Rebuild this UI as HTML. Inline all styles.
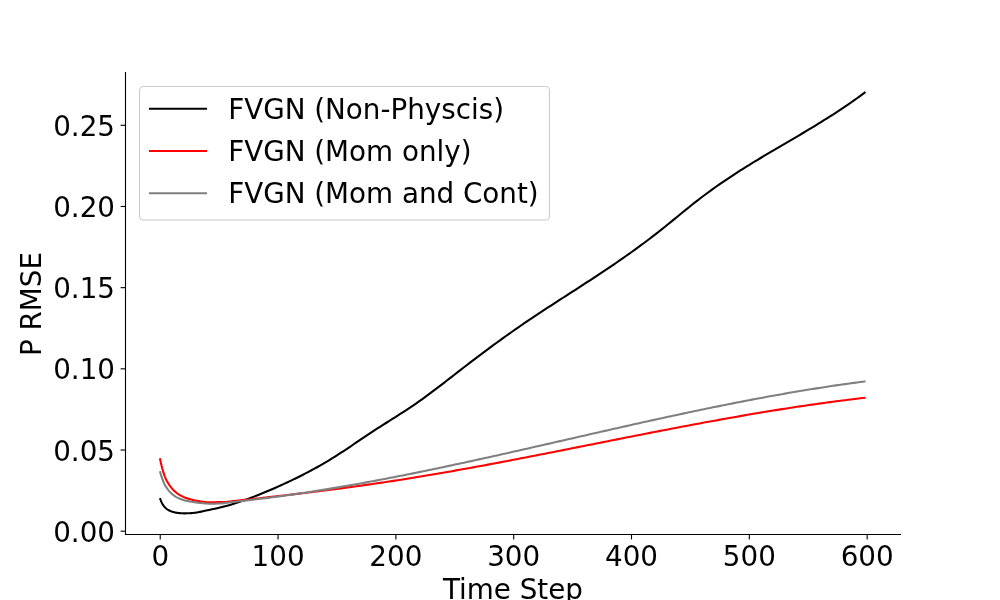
<!DOCTYPE html>
<html><head><meta charset="utf-8"><title>P RMSE</title>
<style>html,body{margin:0;padding:0;background:#fff}svg{display:block}text{font-family:"DejaVu Sans","Liberation Sans",sans-serif;font-size:27.78px;fill:#000}</style></head><body>
<svg width="1000" height="600" viewBox="0 0 1000 600">
<rect width="1000" height="600" fill="#fff"/>
<g fill="none" stroke-width="2.08" stroke-linejoin="round" stroke-linecap="butt">
<path d="M159.90 498.10 L160.40 499.46 L160.90 500.72 L161.40 501.88 L161.90 502.91 L162.40 503.82 L162.90 504.66 L163.40 505.42 L163.90 506.10 L164.40 506.72 L164.90 507.28 L165.40 507.79 L165.90 508.25 L166.40 508.67 L166.90 509.04 L167.40 509.39 L167.90 509.71 L168.40 510.00 L168.90 510.28 L169.40 510.53 L169.90 510.77 L170.40 510.98 L170.90 511.19 L171.40 511.38 L171.90 511.56 L172.40 511.73 L172.90 511.88 L173.40 512.02 L173.90 512.15 L174.40 512.27 L174.90 512.40 L175.40 512.51 L175.90 512.62 L176.40 512.72 L176.90 512.81 L177.40 512.89 L177.90 512.96 L178.40 513.01 L178.90 513.06 L179.40 513.10 L179.90 513.14 L180.40 513.18 L180.90 513.22 L181.40 513.25 L181.90 513.28 L182.40 513.31 L182.90 513.33 L183.40 513.34 L183.90 513.35 L184.40 513.35 L184.90 513.35 L185.40 513.34 L185.90 513.33 L186.40 513.32 L186.90 513.31 L187.40 513.30 L187.90 513.28 L188.40 513.26 L188.90 513.24 L189.40 513.22 L189.90 513.20 L190.40 513.18 L190.90 513.15 L191.40 513.12 L191.90 513.08 L192.40 513.04 L192.90 512.99 L193.40 512.94 L193.90 512.88 L194.40 512.82 L194.90 512.76 L195.40 512.70 L195.90 512.64 L196.40 512.57 L196.90 512.49 L197.40 512.40 L197.90 512.31 L198.40 512.21 L198.90 512.10 L199.40 512.00 L199.90 511.89 L200.00 511.87 L203.00 511.23 L206.00 510.60 L209.00 509.96 L212.00 509.31 L215.00 508.65 L218.00 507.98 L221.00 507.28 L224.00 506.54 L227.00 505.74 L230.00 504.90 L233.00 504.00 L236.00 503.04 L239.00 502.03 L242.00 501.00 L245.00 499.95 L248.00 498.87 L251.00 497.76 L254.00 496.62 L257.00 495.45 L260.00 494.26 L263.00 493.04 L266.00 491.79 L269.00 490.53 L272.00 489.24 L275.00 487.93 L278.00 486.60 L281.00 485.25 L284.00 483.89 L287.00 482.50 L290.00 481.09 L293.00 479.66 L296.00 478.20 L299.00 476.72 L302.00 475.21 L305.00 473.67 L308.00 472.11 L311.00 470.51 L314.00 468.89 L317.00 467.24 L320.00 465.55 L323.00 463.83 L326.00 462.07 L329.00 460.28 L332.00 458.45 L335.00 456.58 L338.00 454.68 L341.00 452.74 L344.00 450.77 L347.00 448.78 L350.00 446.77 L353.00 444.75 L356.00 442.72 L359.00 440.69 L362.00 438.66 L365.00 436.64 L368.00 434.63 L371.00 432.64 L374.00 430.68 L377.00 428.73 L380.00 426.81 L383.00 424.90 L386.00 423.00 L389.00 421.11 L392.00 419.22 L395.00 417.32 L398.00 415.41 L401.00 413.49 L404.00 411.55 L407.00 409.59 L410.00 407.60 L413.00 405.58 L416.00 403.52 L419.00 401.42 L422.00 399.29 L425.00 397.12 L428.00 394.92 L431.00 392.70 L434.00 390.45 L437.00 388.18 L440.00 385.89 L443.00 383.58 L446.00 381.27 L449.00 378.94 L452.00 376.61 L455.00 374.28 L458.00 371.94 L461.00 369.61 L464.00 367.29 L467.00 364.97 L470.00 362.67 L473.00 360.38 L476.00 358.09 L479.00 355.82 L482.00 353.57 L485.00 351.32 L488.00 349.09 L491.00 346.87 L494.00 344.66 L497.00 342.47 L500.00 340.30 L503.00 338.14 L506.00 335.99 L509.00 333.86 L512.00 331.75 L515.00 329.65 L518.00 327.57 L521.00 325.50 L524.00 323.45 L527.00 321.42 L530.00 319.40 L533.00 317.39 L536.00 315.39 L539.00 313.40 L542.00 311.42 L545.00 309.45 L548.00 307.49 L551.00 305.53 L554.00 303.58 L557.00 301.64 L560.00 299.69 L563.00 297.75 L566.00 295.82 L569.00 293.88 L572.00 291.94 L575.00 290.01 L578.00 288.07 L581.00 286.12 L584.00 284.18 L587.00 282.23 L590.00 280.27 L593.00 278.31 L596.00 276.34 L599.00 274.36 L602.00 272.37 L605.00 270.37 L608.00 268.36 L611.00 266.33 L614.00 264.30 L617.00 262.25 L620.00 260.18 L623.00 258.10 L626.00 256.00 L629.00 253.88 L632.00 251.74 L635.00 249.59 L638.00 247.41 L641.00 245.21 L644.00 242.99 L647.00 240.75 L650.00 238.48 L653.00 236.18 L656.00 233.86 L659.00 231.51 L662.00 229.13 L665.00 226.73 L668.00 224.30 L671.00 221.87 L674.00 219.42 L677.00 216.96 L680.00 214.51 L683.00 212.06 L686.00 209.62 L689.00 207.20 L692.00 204.80 L695.00 202.42 L698.00 200.07 L701.00 197.76 L704.00 195.49 L707.00 193.25 L710.00 191.05 L713.00 188.88 L716.00 186.75 L719.00 184.65 L722.00 182.57 L725.00 180.53 L728.00 178.52 L731.00 176.53 L734.00 174.56 L737.00 172.62 L740.00 170.70 L743.00 168.80 L746.00 166.92 L749.00 165.06 L752.00 163.21 L755.00 161.38 L758.00 159.56 L761.00 157.76 L764.00 155.96 L767.00 154.18 L770.00 152.40 L773.00 150.63 L776.00 148.87 L779.00 147.11 L782.00 145.35 L785.00 143.59 L788.00 141.83 L791.00 140.07 L794.00 138.31 L797.00 136.55 L800.00 134.78 L803.00 133.00 L806.00 131.21 L809.00 129.42 L812.00 127.61 L815.00 125.79 L818.00 123.96 L821.00 122.11 L824.00 120.24 L827.00 118.36 L830.00 116.46 L833.00 114.54 L836.00 112.59 L839.00 110.63 L842.00 108.64 L845.00 106.62 L848.00 104.58 L851.00 102.50 L854.00 100.40 L857.00 98.27 L860.00 96.10 L863.00 93.90 L865.50 92.04" stroke="#000"/>
<path d="M159.90 458.20 L160.40 460.63 L160.90 462.93 L161.40 465.10 L161.90 467.12 L162.40 468.99 L162.90 470.76 L163.40 472.43 L163.90 473.97 L164.40 475.37 L164.90 476.66 L165.40 477.86 L165.90 478.98 L166.40 480.01 L166.90 480.98 L167.40 481.89 L167.90 482.75 L168.40 483.57 L168.90 484.34 L169.40 485.09 L169.90 485.79 L170.40 486.47 L170.90 487.11 L171.40 487.73 L171.90 488.33 L172.40 488.89 L172.90 489.44 L173.40 489.95 L173.90 490.44 L174.40 490.92 L174.90 491.39 L175.40 491.84 L175.90 492.27 L176.40 492.69 L176.90 493.09 L177.40 493.47 L177.90 493.83 L178.40 494.17 L178.90 494.49 L179.40 494.80 L179.90 495.10 L180.40 495.39 L180.90 495.67 L181.40 495.94 L181.90 496.19 L182.40 496.44 L182.90 496.68 L183.40 496.91 L183.90 497.12 L184.40 497.33 L184.90 497.53 L185.40 497.72 L185.90 497.91 L186.40 498.08 L186.90 498.25 L187.40 498.42 L187.90 498.58 L188.40 498.73 L188.90 498.88 L189.40 499.03 L189.90 499.17 L190.40 499.31 L190.90 499.45 L191.40 499.58 L191.90 499.72 L192.40 499.84 L192.90 499.97 L193.40 500.09 L193.90 500.20 L194.40 500.32 L194.90 500.42 L195.40 500.52 L195.90 500.62 L196.40 500.71 L196.90 500.80 L197.40 500.89 L197.90 500.97 L198.40 501.06 L198.90 501.14 L199.40 501.21 L199.90 501.28 L200.00 501.30 L203.00 501.66 L206.00 501.96 L209.00 502.17 L212.00 502.25 L215.00 502.22 L218.00 502.16 L221.00 502.06 L224.00 501.92 L227.00 501.72 L230.00 501.45 L233.00 501.13 L236.00 500.80 L239.00 500.46 L242.00 500.14 L245.00 499.83 L248.00 499.51 L251.00 499.18 L254.00 498.84 L257.00 498.51 L260.00 498.17 L263.00 497.83 L266.00 497.49 L269.00 497.15 L272.00 496.81 L275.00 496.46 L278.00 496.12 L281.00 495.77 L284.00 495.42 L287.00 495.07 L290.00 494.72 L293.00 494.36 L296.00 494.00 L299.00 493.64 L302.00 493.28 L305.00 492.92 L308.00 492.55 L311.00 492.18 L314.00 491.81 L317.00 491.44 L320.00 491.06 L323.00 490.68 L326.00 490.30 L329.00 489.92 L332.00 489.53 L335.00 489.14 L338.00 488.75 L341.00 488.35 L344.00 487.95 L347.00 487.55 L350.00 487.15 L353.00 486.74 L356.00 486.33 L359.00 485.91 L362.00 485.49 L365.00 485.07 L368.00 484.64 L371.00 484.21 L374.00 483.78 L377.00 483.34 L380.00 482.90 L383.00 482.46 L386.00 482.01 L389.00 481.56 L392.00 481.10 L395.00 480.64 L398.00 480.17 L401.00 479.70 L404.00 479.23 L407.00 478.75 L410.00 478.27 L413.00 477.78 L416.00 477.30 L419.00 476.80 L422.00 476.31 L425.00 475.81 L428.00 475.31 L431.00 474.80 L434.00 474.29 L437.00 473.78 L440.00 473.26 L443.00 472.74 L446.00 472.22 L449.00 471.70 L452.00 471.17 L455.00 470.64 L458.00 470.10 L461.00 469.57 L464.00 469.03 L467.00 468.48 L470.00 467.94 L473.00 467.39 L476.00 466.84 L479.00 466.29 L482.00 465.74 L485.00 465.18 L488.00 464.62 L491.00 464.06 L494.00 463.50 L497.00 462.93 L500.00 462.37 L503.00 461.80 L506.00 461.23 L509.00 460.65 L512.00 460.08 L515.00 459.50 L518.00 458.93 L521.00 458.35 L524.00 457.77 L527.00 457.19 L530.00 456.60 L533.00 456.02 L536.00 455.43 L539.00 454.85 L542.00 454.26 L545.00 453.67 L548.00 453.08 L551.00 452.49 L554.00 451.90 L557.00 451.30 L560.00 450.71 L563.00 450.12 L566.00 449.52 L569.00 448.93 L572.00 448.33 L575.00 447.74 L578.00 447.14 L581.00 446.54 L584.00 445.95 L587.00 445.35 L590.00 444.75 L593.00 444.16 L596.00 443.56 L599.00 442.96 L602.00 442.37 L605.00 441.77 L608.00 441.17 L611.00 440.58 L614.00 439.98 L617.00 439.39 L620.00 438.79 L623.00 438.20 L626.00 437.60 L629.00 437.01 L632.00 436.42 L635.00 435.83 L638.00 435.24 L641.00 434.65 L644.00 434.06 L647.00 433.47 L650.00 432.89 L653.00 432.30 L656.00 431.72 L659.00 431.13 L662.00 430.55 L665.00 429.97 L668.00 429.40 L671.00 428.82 L674.00 428.24 L677.00 427.67 L680.00 427.10 L683.00 426.53 L686.00 425.96 L689.00 425.40 L692.00 424.83 L695.00 424.27 L698.00 423.71 L701.00 423.15 L704.00 422.60 L707.00 422.04 L710.00 421.49 L713.00 420.95 L716.00 420.40 L719.00 419.86 L722.00 419.32 L725.00 418.78 L728.00 418.24 L731.00 417.71 L734.00 417.18 L737.00 416.65 L740.00 416.13 L743.00 415.61 L746.00 415.09 L749.00 414.58 L752.00 414.07 L755.00 413.56 L758.00 413.06 L761.00 412.55 L764.00 412.06 L767.00 411.56 L770.00 411.07 L773.00 410.59 L776.00 410.10 L779.00 409.62 L782.00 409.15 L785.00 408.68 L788.00 408.21 L791.00 407.75 L794.00 407.29 L797.00 406.83 L800.00 406.38 L803.00 405.93 L806.00 405.49 L809.00 405.05 L812.00 404.62 L815.00 404.19 L818.00 403.77 L821.00 403.35 L824.00 402.93 L827.00 402.52 L830.00 402.12 L833.00 401.72 L836.00 401.32 L839.00 400.93 L842.00 400.55 L845.00 400.17 L848.00 399.79 L851.00 399.42 L854.00 399.06 L857.00 398.70 L860.00 398.34 L863.00 398.00 L865.50 397.71" stroke="#f00"/>
<path d="M159.90 471.20 L160.40 472.95 L160.90 474.63 L161.40 476.22 L161.90 477.71 L162.40 479.12 L162.90 480.48 L163.40 481.76 L163.90 482.94 L164.40 484.00 L164.90 484.97 L165.40 485.86 L165.90 486.69 L166.40 487.46 L166.90 488.19 L167.40 488.88 L167.90 489.54 L168.40 490.17 L168.90 490.77 L169.40 491.34 L169.90 491.89 L170.40 492.40 L170.90 492.90 L171.40 493.38 L171.90 493.84 L172.40 494.27 L172.90 494.69 L173.40 495.08 L173.90 495.44 L174.40 495.80 L174.90 496.14 L175.40 496.48 L175.90 496.80 L176.40 497.10 L176.90 497.39 L177.40 497.66 L177.90 497.91 L178.40 498.15 L178.90 498.37 L179.40 498.58 L179.90 498.78 L180.40 498.97 L180.90 499.16 L181.40 499.33 L181.90 499.50 L182.40 499.67 L182.90 499.82 L183.40 499.97 L183.90 500.12 L184.40 500.25 L184.90 500.39 L185.40 500.52 L185.90 500.64 L186.40 500.76 L186.90 500.88 L187.40 500.99 L187.90 501.10 L188.40 501.20 L188.90 501.30 L189.40 501.39 L189.90 501.48 L190.40 501.57 L190.90 501.66 L191.40 501.74 L191.90 501.83 L192.40 501.91 L192.90 501.99 L193.40 502.07 L193.90 502.15 L194.40 502.23 L194.90 502.31 L195.40 502.38 L195.90 502.45 L196.40 502.52 L196.90 502.59 L197.40 502.66 L197.90 502.72 L198.40 502.78 L198.90 502.84 L199.40 502.89 L199.90 502.94 L200.00 502.95 L203.00 503.31 L206.00 503.56 L209.00 503.71 L212.00 503.75 L215.00 503.67 L218.00 503.54 L221.00 503.37 L224.00 503.09 L227.00 502.75 L230.00 502.39 L233.00 502.03 L236.00 501.66 L239.00 501.28 L242.00 500.93 L245.00 500.60 L248.00 500.26 L251.00 499.92 L254.00 499.56 L257.00 499.21 L260.00 498.84 L263.00 498.47 L266.00 498.10 L269.00 497.71 L272.00 497.32 L275.00 496.93 L278.00 496.53 L281.00 496.12 L284.00 495.71 L287.00 495.29 L290.00 494.87 L293.00 494.44 L296.00 494.00 L299.00 493.56 L302.00 493.12 L305.00 492.67 L308.00 492.21 L311.00 491.75 L314.00 491.28 L317.00 490.81 L320.00 490.33 L323.00 489.85 L326.00 489.36 L329.00 488.87 L332.00 488.37 L335.00 487.87 L338.00 487.37 L341.00 486.85 L344.00 486.34 L347.00 485.82 L350.00 485.29 L353.00 484.77 L356.00 484.23 L359.00 483.69 L362.00 483.15 L365.00 482.61 L368.00 482.06 L371.00 481.50 L374.00 480.95 L377.00 480.38 L380.00 479.82 L383.00 479.25 L386.00 478.67 L389.00 478.10 L392.00 477.52 L395.00 476.93 L398.00 476.35 L401.00 475.75 L404.00 475.16 L407.00 474.56 L410.00 473.96 L413.00 473.36 L416.00 472.75 L419.00 472.14 L422.00 471.53 L425.00 470.91 L428.00 470.29 L431.00 469.67 L434.00 469.05 L437.00 468.42 L440.00 467.79 L443.00 467.16 L446.00 466.52 L449.00 465.88 L452.00 465.24 L455.00 464.60 L458.00 463.96 L461.00 463.31 L464.00 462.66 L467.00 462.01 L470.00 461.36 L473.00 460.70 L476.00 460.05 L479.00 459.39 L482.00 458.73 L485.00 458.07 L488.00 457.40 L491.00 456.74 L494.00 456.07 L497.00 455.40 L500.00 454.73 L503.00 454.06 L506.00 453.39 L509.00 452.71 L512.00 452.04 L515.00 451.36 L518.00 450.69 L521.00 450.01 L524.00 449.33 L527.00 448.65 L530.00 447.97 L533.00 447.29 L536.00 446.61 L539.00 445.92 L542.00 445.24 L545.00 444.56 L548.00 443.87 L551.00 443.19 L554.00 442.50 L557.00 441.82 L560.00 441.13 L563.00 440.45 L566.00 439.76 L569.00 439.08 L572.00 438.39 L575.00 437.70 L578.00 437.02 L581.00 436.33 L584.00 435.65 L587.00 434.97 L590.00 434.28 L593.00 433.60 L596.00 432.91 L599.00 432.23 L602.00 431.55 L605.00 430.87 L608.00 430.19 L611.00 429.51 L614.00 428.83 L617.00 428.15 L620.00 427.48 L623.00 426.80 L626.00 426.13 L629.00 425.45 L632.00 424.78 L635.00 424.11 L638.00 423.44 L641.00 422.78 L644.00 422.11 L647.00 421.45 L650.00 420.78 L653.00 420.12 L656.00 419.46 L659.00 418.80 L662.00 418.15 L665.00 417.49 L668.00 416.84 L671.00 416.19 L674.00 415.54 L677.00 414.90 L680.00 414.26 L683.00 413.61 L686.00 412.98 L689.00 412.34 L692.00 411.71 L695.00 411.07 L698.00 410.45 L701.00 409.82 L704.00 409.20 L707.00 408.58 L710.00 407.96 L713.00 407.34 L716.00 406.73 L719.00 406.12 L722.00 405.52 L725.00 404.92 L728.00 404.32 L731.00 403.72 L734.00 403.13 L737.00 402.54 L740.00 401.95 L743.00 401.37 L746.00 400.79 L749.00 400.22 L752.00 399.64 L755.00 399.08 L758.00 398.51 L761.00 397.95 L764.00 397.40 L767.00 396.84 L770.00 396.30 L773.00 395.75 L776.00 395.21 L779.00 394.68 L782.00 394.15 L785.00 393.62 L788.00 393.10 L791.00 392.58 L794.00 392.07 L797.00 391.56 L800.00 391.05 L803.00 390.55 L806.00 390.06 L809.00 389.57 L812.00 389.09 L815.00 388.61 L818.00 388.13 L821.00 387.66 L824.00 387.20 L827.00 386.74 L830.00 386.28 L833.00 385.84 L836.00 385.39 L839.00 384.95 L842.00 384.52 L845.00 384.10 L848.00 383.67 L851.00 383.26 L854.00 382.85 L857.00 382.45 L860.00 382.05 L863.00 381.66 L865.50 381.33" stroke="#808080"/>
</g>
<g stroke="#000" stroke-width="1.11" stroke-linecap="square" fill="none">
<path d="M125.5 534.5 L125.5 72.5"/><path d="M125.5 534.5 L900.5 534.5"/>
</g>
<g stroke="#000" stroke-width="1.11" fill="none">
<path d="M160.23 534.5 V539.4"/>
<path d="M278.05 534.5 V539.4"/>
<path d="M395.87 534.5 V539.4"/>
<path d="M513.69 534.5 V539.4"/>
<path d="M631.51 534.5 V539.4"/>
<path d="M749.33 534.5 V539.4"/>
<path d="M867.15 534.5 V539.4"/>
<path d="M125.5 531.20 H120.6"/>
<path d="M125.5 450.02 H120.6"/>
<path d="M125.5 368.84 H120.6"/>
<path d="M125.5 287.66 H120.6"/>
<path d="M125.5 206.48 H120.6"/>
<path d="M125.5 125.30 H120.6"/>
</g>
<text x="160.23" y="566.1" text-anchor="middle">0</text>
<text x="278.05" y="566.1" text-anchor="middle">100</text>
<text x="395.87" y="566.1" text-anchor="middle">200</text>
<text x="513.69" y="566.1" text-anchor="middle">300</text>
<text x="631.51" y="566.1" text-anchor="middle">400</text>
<text x="749.33" y="566.1" text-anchor="middle">500</text>
<text x="867.15" y="566.1" text-anchor="middle">600</text>
<text x="115.0" y="541.75" text-anchor="end">0.00</text>
<text x="115.0" y="460.57" text-anchor="end">0.05</text>
<text x="115.0" y="379.39" text-anchor="end">0.10</text>
<text x="115.0" y="298.21" text-anchor="end">0.15</text>
<text x="115.0" y="217.03" text-anchor="end">0.20</text>
<text x="115.0" y="135.85" text-anchor="end">0.25</text>
<text x="512.9" y="598.6" text-anchor="middle">Time Step</text>
<text transform="translate(41.2 304) rotate(-90)" text-anchor="middle">P RMSE</text>
<rect x="139.5" y="86.5" width="410" height="133.5" rx="4" ry="4" fill="#fff" fill-opacity="0.8" stroke="#ccc" stroke-width="1.11"/>
<path d="M150 108.8 H206" stroke="#000" stroke-width="2.08" stroke-linecap="square" fill="none"/>
<text x="228.2" y="119.00">FVGN (Non-Physcis)</text>
<path d="M150 151.0 H206" stroke="#f00" stroke-width="2.08" stroke-linecap="square" fill="none"/>
<text x="228.2" y="161.00">FVGN (Mom only)</text>
<path d="M150 193.2 H206" stroke="#808080" stroke-width="2.08" stroke-linecap="square" fill="none"/>
<text x="228.2" y="203.00">FVGN (Mom and Cont)</text>
</svg></body></html>
